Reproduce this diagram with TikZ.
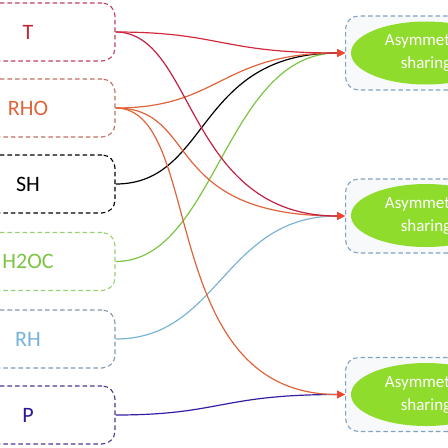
\documentclass[tikz,border=0pt]{standalone}
\usepackage{fontspec}
\setmainfont{Carlito}
\usetikzlibrary{arrows.meta,shapes.geometric}
\definecolor{cT}{HTML}{D42A3E}
\definecolor{cTb}{HTML}{C0405E}
\definecolor{cTm}{HTML}{C21F45}
\definecolor{cR}{HTML}{E0643A}
\definecolor{cRb}{HTML}{C07060}
\definecolor{cG}{HTML}{7CC443}
\definecolor{cGb}{HTML}{98D070}
\definecolor{cB}{HTML}{7BB4D2}
\definecolor{cBt}{HTML}{76B2DC}
\definecolor{cBb}{HTML}{8098B0}
\definecolor{cP}{HTML}{3120A2}
\definecolor{cPt}{HTML}{2A1A92}
\definecolor{cPb}{HTML}{4A3A92}
\definecolor{arrowred}{HTML}{F0452F}
\definecolor{lime}{HTML}{8FDC2C}
\definecolor{rbox}{HTML}{7FA2C2}
\definecolor{rfill}{HTML}{F7F9FB}
\tikzset{
  leftbox/.style={draw, dash pattern=on 4.5pt off 3pt, line width=1.1pt, rounded corners=13pt,
    minimum width=174pt, minimum height=58pt, inner sep=0pt, font=\fontsize{22}{24}\selectfont},
  rightbox/.style={draw=rbox, fill=rfill, dash pattern=on 4.5pt off 3pt, line width=1.1pt, rounded corners=13pt,
    minimum width=175pt, minimum height=74pt, inner sep=0pt, anchor=west},
  goal/.style={ellipse, fill=lime, minimum width=150pt, minimum height=63pt, inner sep=0pt,
    text=white, align=center, font=\fontsize{17}{23}\selectfont},
  conn/.style={line width=1.2pt, -{Triangle[length=8pt,width=7.5pt,color=arrowred]}}
}
\begin{document}
\begin{tikzpicture}[x=1pt,y=-1pt]
\useasboundingbox (0,0) rectangle (448,448);
\clip (0,0) rectangle (448,448);
% left boxes
\node[leftbox, draw=cTb, text=cT!90!black] (T) at (28,32) {T};
\node[leftbox, draw=cRb, text=cR] (RHO) at (28,108) {RHO};
\node[leftbox, draw=black, text=black] (SH) at (28,184) {SH};
\node[leftbox, draw=cGb, text=cG] (H2OC) at (28,261.5) {H2OC};
\node[leftbox, draw=cBb, text=cBt] (RH) at (28,339) {RH};
\node[leftbox, draw=cPb, text=cPt] (P) at (28,415) {P};
% right boxes
\node[rightbox] (A1) at (345,53) {};
\node[rightbox] (A2) at (345,216) {};
\node[rightbox] (A3) at (345,394.5) {};
\node[goal] (E1) at (426,53) {Asymmetric\\sharing};
\node[goal] (E2) at (426,215.5) {Asymmetric\\sharing};
\node[goal] (E3) at (426,394.5) {Asymmetric\\sharing};
% connectors
\draw[conn, cB] (RH.east) .. controls +(104,0) and +(-121,0) .. (A2.west);
\draw[conn, cP] (P.east) .. controls +(105,0) and +(-125,0) .. (A3.west);
\draw[conn, cG] (H2OC.east) .. controls +(100,0) and +(-120,0) .. (A1.west);
\draw[conn, black] (SH.east) .. controls +(95,0) and +(-150,0) .. (A1.west);
\draw[conn, cR] (RHO.east) .. controls +(90,0) and +(-190,0) .. (A3.west);
\draw[conn, cR] (RHO.east) .. controls +(85,0) and +(-185,0) .. (A2.west);
\draw[conn, cR] (RHO.east) .. controls +(105,0) and +(-125,0) .. (A1.west);
\draw[conn, cTm] (T.east) .. controls +(80,0) and +(-160,0) .. (A2.west);
\draw[conn, cT] (T.east) .. controls +(105,0) and +(-125,0) .. (A1.west);
\end{tikzpicture}
\end{document}
